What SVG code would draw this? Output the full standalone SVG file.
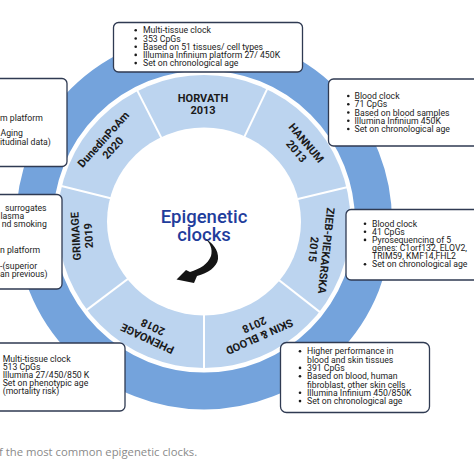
<svg xmlns="http://www.w3.org/2000/svg" width="474" height="474" viewBox="0 0 474 474">
<defs>
<style>
.box{fill:#fff;stroke:#2f3a52;stroke-width:1.3}
.bt{font-family:Roboto,"Liberation Sans",sans-serif;font-size:8.7px;fill:#1b1b1b}
.bu{fill:#1b1b1b}
.lab{font-family:Roboto,"Liberation Sans",sans-serif;font-size:11px;font-weight:700;fill:#1a1a1a;text-anchor:middle}
.sp{stroke:#fff;stroke-width:2}
.ct{font-family:Roboto,"Liberation Sans",sans-serif;font-size:18.5px;font-weight:500;fill:#1f3d9c;text-anchor:middle}
</style>
</defs>
<rect width="474" height="474" fill="#fff"/>
<g id="rings">
<circle cx="204" cy="221.5" r="169.5" fill="none" stroke="#74a3dc" stroke-width="37"/>
<circle cx="204" cy="221.5" r="146.5" fill="#bcd4ef"/>
</g>
<g id="connectors">
<line class="sp" x1="204" y1="221.5" x2="267.7" y2="87.9"/>
<line class="sp" x1="204" y1="221.5" x2="347.9" y2="187"/>
<line class="sp" x1="204" y1="221.5" x2="320.6" y2="312.6"/>
<line class="sp" x1="204" y1="221.5" x2="204" y2="369.5"/>
<line class="sp" x1="204" y1="221.5" x2="85.8" y2="310.6"/>
<line class="sp" x1="204" y1="221.5" x2="60.4" y2="185.7"/>
<line class="sp" x1="204" y1="221.5" x2="136.8" y2="89.6"/>
</g>
<ellipse cx="204" cy="221.5" rx="97" ry="94" fill="#fff"/>
<g id="horvath" transform="translate(203,104)"><text class="lab" y="-2.4">HORVATH</text><text class="lab" y="10.4">2013</text></g>
<g id="hannum" transform="translate(301.5,147) rotate(50)"><text class="lab" y="-2.4">HANNUM</text><text class="lab" y="10.4">2013</text></g>
<g id="zieb" transform="translate(320,250) rotate(96)"><text class="lab" y="-2.4">ZIEB-PIEKARSKA</text><text class="lab" y="10.4">2015</text></g>
<g id="skinblood" transform="translate(257,331) rotate(156)"><text class="lab" y="-2.4">SKIN &amp; BLOOD</text><text class="lab" y="10.4">2018</text></g>
<g id="phenoage" transform="translate(150,333) rotate(205)"><text class="lab" y="-2.4">PHENOAGE</text><text class="lab" y="10.4">2018</text></g>
<g id="grimage" transform="translate(82,236) rotate(-93)"><text class="lab" y="-2.4">GRIMAGE</text><text class="lab" y="10.4">2019</text></g>
<g id="dunedin" transform="translate(108,143.5) rotate(-48)"><text class="lab" y="-2.4">DunedinPoAm</text><text class="lab" y="10.4">2020</text></g>
<g id="center">
<text class="ct" x="204" y="222.7">Epigenetic</text>
<text class="ct" x="204" y="240.7">clocks</text>
<path d="M204 238 C212 242 219 250 218 259 C217 267 208 273 197 276 L194 283 L176.5 279.5 L186 270 L190 272 C200 269 208 264 211 256 C213 249 210 242 204 238 Z" fill="#151515"/>
</g>
<g id="box-horvath">
<rect class="box" x="113.5" y="22.5" width="189" height="49.5" rx="5"/>
<circle class="bu" cx="135.7" cy="30.3" r="1.3"/><text class="bt" x="143" y="33.3">Multi-tissue clock</text>
<circle class="bu" cx="135.7" cy="38.5" r="1.3"/><text class="bt" x="143" y="41.5">353 CpGs</text>
<circle class="bu" cx="135.7" cy="46.7" r="1.3"/><text class="bt" x="143" y="49.7">Based on 51 tissues/ cell types</text>
<circle class="bu" cx="135.7" cy="54.9" r="1.3"/><text class="bt" x="143" y="57.9">Illumina Infinium platform 27/ 450K</text>
<circle class="bu" cx="135.7" cy="63.1" r="1.3"/><text class="bt" x="143" y="66.1">Set on chronological age</text>
</g>
<g id="box-hannum">
<rect class="box" x="328.5" y="79" width="160" height="67" rx="5"/>
<circle class="bu" cx="348.3" cy="96" r="1.3"/><text class="bt" x="354.5" y="99">Blood clock</text>
<circle class="bu" cx="348.3" cy="104.3" r="1.3"/><text class="bt" x="354.5" y="107.3">71 CpGs</text>
<circle class="bu" cx="348.3" cy="112.5" r="1.3"/><text class="bt" x="354.5" y="115.5">Based on blood samples</text>
<circle class="bu" cx="348.3" cy="120.7" r="1.3"/><text class="bt" x="354.5" y="123.7">Illumina Infinium 450K</text>
<circle class="bu" cx="348.3" cy="129" r="1.3"/><text class="bt" x="354.5" y="132">Set on chronological age</text>
</g>
<g id="box-zieb">
<rect class="box" x="346" y="209.5" width="140" height="70.5" rx="5"/>
<circle class="bu" cx="365" cy="223.7" r="1.3"/><text class="bt" x="372" y="226.7">Blood clock</text>
<circle class="bu" cx="365" cy="231.8" r="1.3"/><text class="bt" x="372" y="234.8">41 CpGs</text>
<circle class="bu" cx="365" cy="239.9" r="1.3"/><text class="bt" x="372" y="242.9">Pyrosequencing of 5</text>
<text class="bt" x="372" y="251">genes: C1orf132, ELOV2,</text>
<text class="bt" x="372" y="259.1">TRIM59, KMF14,FHL2</text>
<circle class="bu" cx="365" cy="264.2" r="1.3"/><text class="bt" x="372" y="267.2">Set on chronological age</text>
</g>
<g id="box-skinblood">
<rect class="box" x="280.5" y="342.5" width="149" height="70" rx="6"/>
<circle class="bu" cx="300" cy="351.3" r="1.3"/><text class="bt" x="307" y="354.3">Higher performance in</text>
<text class="bt" x="307" y="362.6">blood and skin tissues</text>
<circle class="bu" cx="300" cy="367.9" r="1.3"/><text class="bt" x="307" y="370.9">391 CpGs</text>
<circle class="bu" cx="300" cy="376.2" r="1.3"/><text class="bt" x="307" y="379.2">Based on blood, human</text>
<text class="bt" x="307" y="387.5">fibroblast, other skin cells</text>
<circle class="bu" cx="300" cy="392.8" r="1.3"/><text class="bt" x="307" y="395.8">Illumina Infinium 450/850K</text>
<circle class="bu" cx="300" cy="401.1" r="1.3"/><text class="bt" x="307" y="404.1">Set on chronological age</text>
</g>
<g id="box-phenoage">
<rect class="box" x="-10" y="343" width="135" height="68" rx="5"/>
<text class="bt" x="2.7" y="361.7">Multi-tissue clock</text>
<text class="bt" x="2.7" y="369.8">513 CpGs</text>
<text class="bt" x="2.7" y="377.9">Illumina 27/450/850 K</text>
<text class="bt" x="2.7" y="386">Set on phenotypic age</text>
<text class="bt" x="2.7" y="394.1">(mortality risk)</text>
</g>
<g id="box-grimage">
<rect class="box" x="-10" y="194.5" width="72" height="94.5" rx="5"/>
<text class="bt" x="5" y="211">surrogates</text>
<text class="bt" x="0.5" y="218.7">lasma</text>
<text class="bt" x="1.7" y="227">nd smoking</text>
<text class="bt" x="0" y="252.7">n platform</text>
<text class="bt" x="0" y="268.5">-(superior</text>
<text class="bt" x="0" y="277">an previous)</text>
</g>
<g id="box-dunedin">
<rect class="box" x="-10" y="78.5" width="77" height="88" rx="5"/>
<text class="bt" x="0" y="120.7">m platform</text>
<text class="bt" x="0.5" y="136">Aging</text>
<text class="bt" x="0" y="145">itudinal data)</text>
</g>
<text x="-1" y="456" font-family="'Open Sans','Liberation Sans',sans-serif" font-size="11.3" fill="#8a8a8a">f the most common epigenetic clocks.</text>
</svg>
